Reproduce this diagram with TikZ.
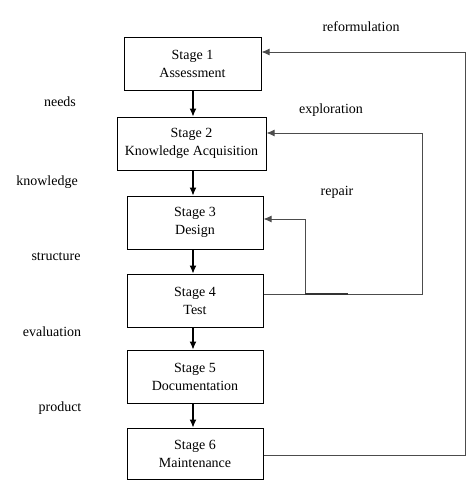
\documentclass[tikz,border=0pt]{standalone}
\usepackage{fontspec}
\setmainfont{Liberation Serif}
\usetikzlibrary{calc,arrows.meta}

\tikzset{
  stage/.style={draw, line width=1pt, minimum height=53pt, align=center, inner sep=0pt},
  flow/.style={line width=1.1pt, -{Latex[length=8pt,width=7pt]}},
  back/.style={line width=1pt, draw=black!70, -{Latex[length=8pt,width=7pt]}},
  lbl/.style={inner sep=0pt}
}

\begin{document}
\begin{tikzpicture}[x=1pt, y=-1pt, font=\fontsize{14}{18}\selectfont]

\useasboundingbox (0,0) rectangle (474,488);

% Stage boxes
\node[stage, minimum width=137pt] (s1) at (192.5, 63.5) {Stage 1\\Assessment};
\node[stage, minimum width=149pt] (s2) at (191.5, 143.5) {Stage 2\\Knowledge Acquisition};
\node[stage, minimum width=136pt] (s3) at (195, 222.5) {Stage 3\\Design};
\node[stage, minimum width=136pt] (s4) at (195, 300.5) {Stage 4\\Test};
\node[stage, minimum width=136pt] (s5) at (195, 376.5) {Stage 5\\Documentation};
\node[stage, minimum width=136pt, minimum height=51pt] (s6) at (195, 453.5) {Stage 6\\Maintenance};

% Forward arrows
\draw[flow] ([xshift=0.5pt]s1.south) -- ([xshift=0.5pt]s1.south |- s2.north);
\draw[flow] ([xshift=1.5pt]s2.south) -- ([xshift=1.5pt]s2.south |- s3.north);
\draw[flow] ([xshift=-2pt]s3.south) -- ([xshift=-2pt]s3.south |- s4.north);
\draw[flow] ([xshift=-2pt]s4.south) -- ([xshift=-2pt]s4.south |- s5.north);
\draw[flow] ([xshift=-2pt]s5.south) -- ([xshift=-2pt]s5.south |- s6.north);

% Feedback loops
\coordinate (rf) at (465, 52);
\coordinate (ex) at (422, 133);
\coordinate (rp) at (305, 219);
\coordinate (t4) at ([yshift=6.5pt]s4.east);

\draw[back] ([yshift=-1.5pt]s6.east) -| (rf) -- (s1.east |- rf);
\draw[back] (t4) -| (ex) -- (s2.east |- ex);
\draw[back] (t4 -| rp) -- (rp) -- (s3.east |- rp);
\draw[line width=1.3pt, black!80] (t4 -| rp) -- (348, 294);

% Labels
\node[lbl] (needs) at (60, 102) {needs};
\node[lbl] (know) at (47, 182) {knowledge};
\node[lbl] (struct) at (56, 257) {structure};
\node[lbl] (eval) at (52, 332) {evaluation};
\node[lbl] (prod) at (60, 408) {product};
\node[lbl] (reform) at (361, 27) {reformulation};
\node[lbl] (explor) at (331, 110) {exploration};
\node[lbl] (repair) at (337, 192) {repair};

\end{tikzpicture}
\end{document}
